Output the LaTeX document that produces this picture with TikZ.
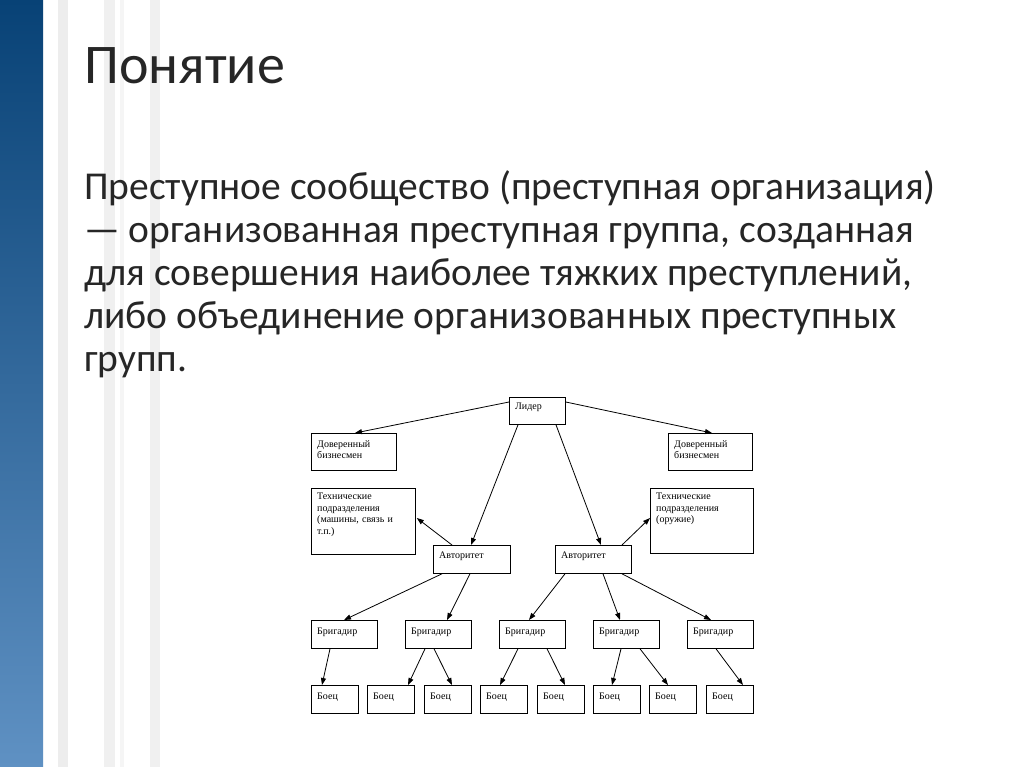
\documentclass[tikz,border=0pt]{standalone}
\usepackage{fontspec}
\setmainfont{Carlito}
\newfontfamily\boxfont{Liberation Serif}
\usetikzlibrary{arrows.meta,calc}
\begin{document}
\begin{tikzpicture}[x=1pt,y=-1pt,
  bx/.style={draw,line width=0.8pt,inner sep=0pt,anchor=north west},
  lbl/.style={anchor=north west,font=\boxfont\fontsize{10}{11.5}\selectfont,align=left,inner sep=0pt,text width=#1},
  ar/.style={-{Triangle[length=7pt,width=5pt]},line width=0.8pt}]
\useasboundingbox (0,0) rectangle (1024,767);
\fill[white] (0,0) rectangle (1024,767);
\shade[top color={rgb,255:red,8;green,66;blue,118},bottom color={rgb,255:red,95;green,145;blue,195}] (0,0) rectangle (43,767);
\fill[black!7] (58,0) rectangle (68,767);
\fill[black!6] (104,0) rectangle (115,767);
\fill[black!6] (150,0) rectangle (160,767);
\fill[black!4] (120,0) rectangle (124,767);
\node[anchor=west,inner sep=0pt,font=\fontsize{56}{60}\selectfont,text=black!85] (title) at (84,66) {Понятие};
\node[anchor=north west,inner sep=0pt,font=\fontsize{39.5}{43}\selectfont,align=left,text=black!85] (body) at (84,170)
{Преступное сообщество (преступная организация)\\— организованная преступная группа, созданная\\для совершения наиболее тяжких преступлений,\\либо объединение организованных преступных\\групп.};
% boxes
\newcommand{\bxx}[7]{\node[bx,minimum width=#4,minimum height=#5] (#1) at (#2,#3) {};
  \node[lbl=#4-8] at ($(#1.north west)+(6,#6)$) {#7};}
\bxx{lid}{509}{397}{56}{27}{6}{Лидер}
\bxx{dl}{311}{433}{85}{37}{7}{Доверенный\\бизнесмен}
\bxx{dr}{668}{433}{84}{37}{7}{Доверенный\\бизнесмен}
\bxx{tl}{311}{488}{104}{66}{5}{Технические\\подразделения\\(машины, связь и\\т.п.)}
\bxx{tr}{650}{488}{103}{65}{5}{Технические\\подразделения\\(оружие)}
\bxx{al}{433}{545}{77}{28}{7}{Авторитет}
\bxx{ar}{555}{545}{76}{28}{7}{Авторитет}
\bxx{b1}{311}{620}{66}{28}{8}{Бригадир}
\bxx{b2}{405}{620}{66}{28}{8}{Бригадир}
\bxx{b3}{499}{620}{66}{28}{8}{Бригадир}
\bxx{b4}{593}{620}{66}{28}{8}{Бригадир}
\bxx{b5}{687}{620}{66}{28}{8}{Бригадир}
\bxx{f1}{311}{685}{47}{28}{8}{Боец}
\bxx{f2}{367}{685}{47}{28}{8}{Боец}
\bxx{f3}{424}{685}{47}{28}{8}{Боец}
\bxx{f4}{480}{685}{47}{28}{8}{Боец}
\bxx{f5}{537}{685}{47}{28}{8}{Боец}
\bxx{f6}{593}{685}{47}{28}{8}{Боец}
\bxx{f7}{649}{685}{47}{28}{8}{Боец}
\bxx{f8}{706}{685}{47}{28}{8}{Боец}
% arrows
\draw[ar] ($(lid.north west)+(0,5)$) -- ($(dl.north west)+(44,0)$);
\draw[ar] ($(lid.north east)+(0,5)$) -- ($(dr.north west)+(44,0)$);
\draw[ar] ($(lid.south west)+(9,0)$) -- ($(al.north west)+(38,0)$);
\draw[ar] ($(lid.south west)+(47,0)$) -- ($(ar.north west)+(46,0)$);
\draw[ar] ($(al.north west)+(19,0)$) -- ($(tl.north east)+(1,30)$);
\draw[ar] ($(ar.north west)+(67,0)$) -- ($(tr.north west)+(0,30)$);
\draw[ar] ($(al.south west)+(9,0)$) -- ($(b1.north west)+(33,0)$);
\draw[ar] ($(al.south west)+(37,0)$) -- ($(b2.north west)+(42,0)$);
\draw[ar] ($(ar.south west)+(10,0)$) -- ($(b3.north west)+(30,0)$);
\draw[ar] ($(ar.south west)+(48,0)$) -- ($(b4.north west)+(27,0)$);
\draw[ar] ($(ar.south west)+(67,0)$) -- ($(b5.north west)+(24,0)$);
\draw[ar] ($(b1.south west)+(19,0)$) -- ($(f1.north west)+(11,0)$);
\draw[ar] ($(b2.south west)+(20,0)$) -- ($(f2.north west)+(41,0)$);
\draw[ar] ($(b2.south west)+(29,0)$) -- ($(f3.north west)+(28,0)$);
\draw[ar] ($(b3.south west)+(19,0)$) -- ($(f4.north west)+(20,0)$);
\draw[ar] ($(b3.south west)+(48,0)$) -- ($(f5.north west)+(28,0)$);
\draw[ar] ($(b4.south west)+(28,0)$) -- ($(f6.north west)+(19,0)$);
\draw[ar] ($(b4.south west)+(47,0)$) -- ($(f7.north west)+(19,0)$);
\draw[ar] ($(b5.south west)+(29,0)$) -- ($(f8.north west)+(37,0)$);
\end{tikzpicture}
\end{document}
